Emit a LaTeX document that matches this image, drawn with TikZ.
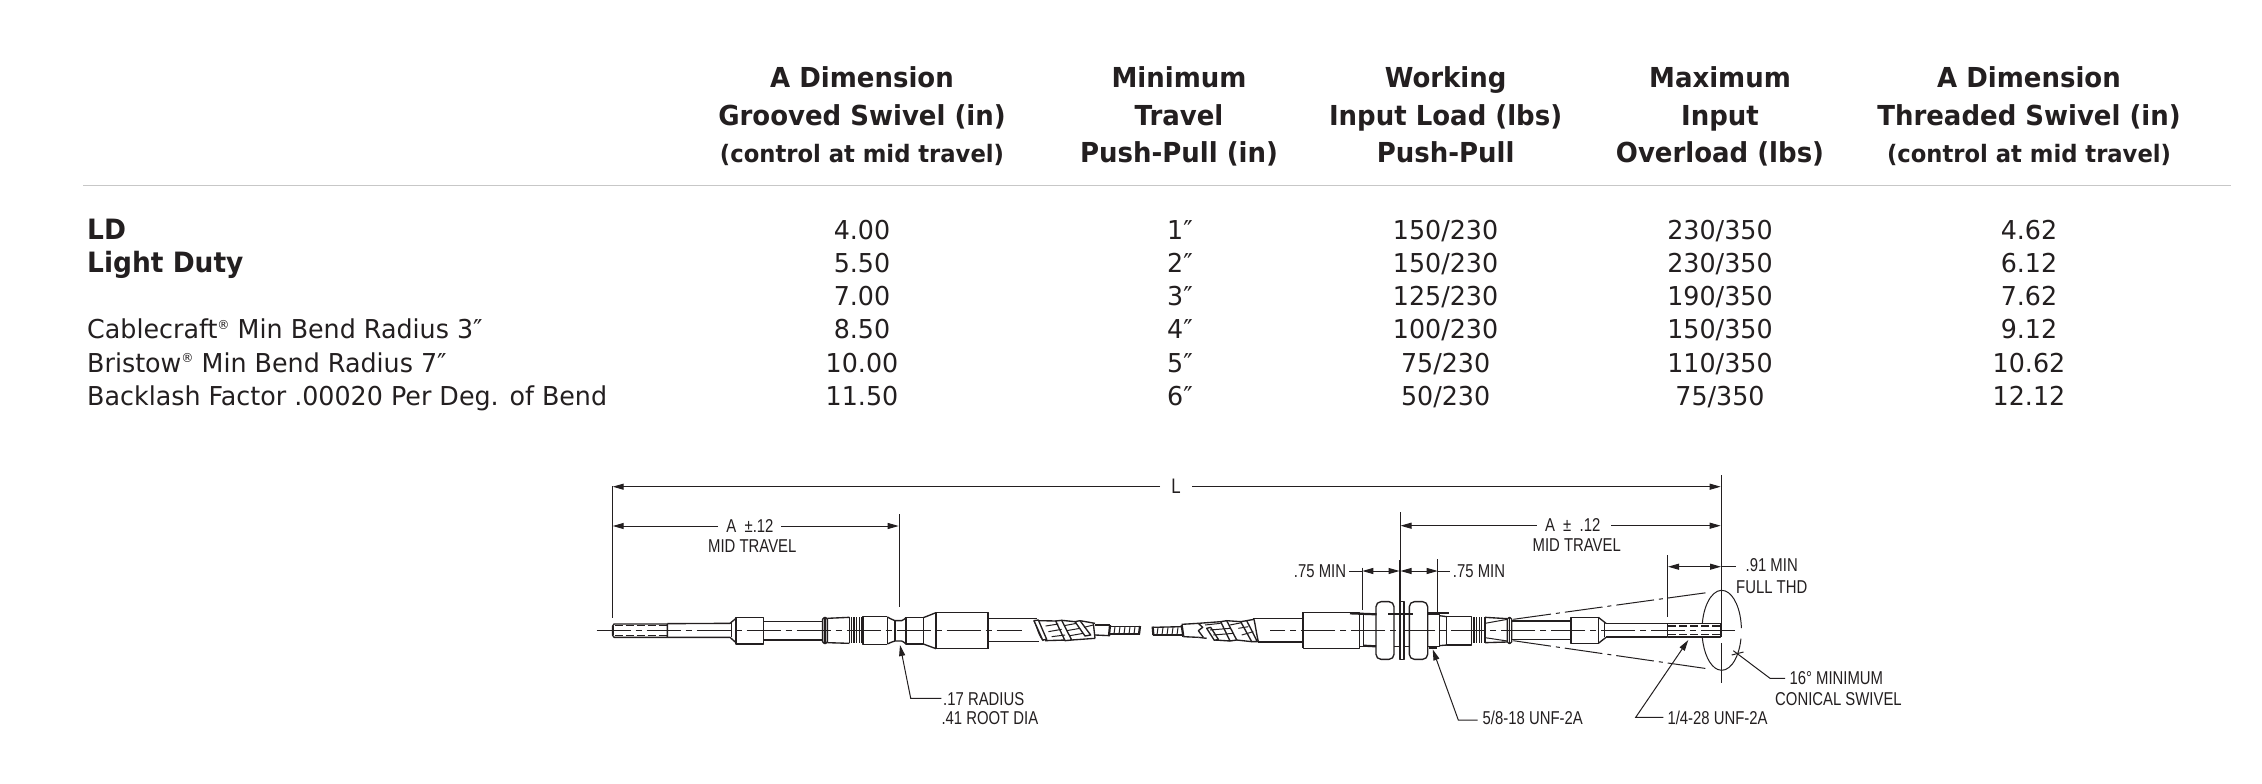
\documentclass[tikz,border=0pt]{standalone}
\usepackage{fontspec}
\usetikzlibrary{arrows.meta}
\newfontfamily\tabfont[FakeStretch=0.975]{DejaVu Sans}
\newfontfamily\headfont[FakeStretch=0.945]{DejaVu Sans Bold}
\newfontfamily\drawfont[FakeStretch=0.8]{Liberation Sans}
\definecolor{ink}{HTML}{231F20}
\tikzset{
 tabcell/.style={inner sep=0pt,anchor=base,text=ink,font=\tabfont\fontsize{26}{26}\selectfont},
 tableft/.style={tabcell,anchor=base west},
 tabbold/.style={tabcell,anchor=base west,font=\headfont\fontsize{28}{28}\selectfont},
 headcell/.style={inner sep=0pt,anchor=base,text=ink,font=\headfont\fontsize{27.5}{27.5}\selectfont},
 subcell/.style={inner sep=0pt,anchor=base,text=ink,font=\headfont\fontsize{24}{24}\selectfont},
 lab/.style={inner sep=0pt,anchor=base,text=ink,font=\drawfont\fontsize{18.6}{18.6}\selectfont},
 labw/.style={lab,anchor=base west},
 part/.style={draw=ink,line width=1.35pt,line join=round},
 heavy/.style={draw=ink,line width=2.2pt},
 thin/.style={draw=ink,line width=1pt},
 dim/.style={draw=ink,line width=1pt},
 dimarrow/.style={dim,-{Triangle[length=11pt,width=6pt]}},
 dimboth/.style={dim,{Triangle[length=11pt,width=6pt]}-{Triangle[length=11pt,width=6pt]}},
 centerline/.style={draw=ink,line width=1pt,dash pattern=on 34pt off 5pt on 6pt off 5pt},
 conic/.style={draw=ink,line width=1pt,dash pattern=on 38pt off 5pt on 4pt off 5pt},
 threaddash/.style={draw=ink,line width=1.2pt,dash pattern=on 8pt off 3pt},
 zoomed/.style={x=0.33333pt,y=-0.33333pt},
}
\newcommand{\tablerow}[7]{%
 \node[tabcell] (a#1) at (862,#2) {#3};
 \node[tabcell] (b#1) at (1180,#2) {#4};
 \node[tabcell] (c#1) at (1445.6,#2) {#5};
 \node[tabcell] (d#1) at (1720,#2) {#6};
 \node[tabcell] (e#1) at (2029,#2) {#7};
}
\newcommand{\regd}{\raisebox{9.5pt}{\fontsize{12.5}{12.5}\selectfont\char"AE}}
\begin{document}
\begin{tikzpicture}[x=1pt,y=-1pt]
\useasboundingbox (0,0) rectangle (2262,784);
\fill[white] (0,0) rectangle (2262,784);
% ---------- table head
\node[headcell] (h1a) at (862,87.7) {A Dimension};
\node[headcell] (h1b) at (862,125) {Grooved Swivel (in)};
\node[subcell] (h1c) at (862,162.5) {(control at mid travel)};
\node[headcell] (h2a) at (1179,87.7) {Minimum};
\node[headcell] (h2b) at (1179,125) {Travel};
\node[headcell] (h2c) at (1179,162.5) {Push-Pull (in)};
\node[headcell] (h3a) at (1445.6,87.7) {Working};
\node[headcell] (h3b) at (1445.6,125) {Input Load (lbs)};
\node[headcell] (h3c) at (1445.6,162.5) {Push-Pull};
\node[headcell] (h4a) at (1720,87.7) {Maximum};
\node[headcell] (h4b) at (1720,125) {Input};
\node[headcell] (h4c) at (1720,162.5) {Overload (lbs)};
\node[headcell] (h5a) at (2029,87.7) {A Dimension};
\node[headcell] (h5b) at (2029,125) {Threaded Swivel (in)};
\node[subcell] (h5c) at (2029,162.5) {(control at mid travel)};
\draw[draw=black!22,line width=1.1pt] (83,185.3) -- (2231,185.3);
% ---------- table body
\node[tabbold] (l1) at (87,239) {LD};
\node[tabbold] (l2) at (87,272) {Light Duty};
\node[tableft] (l4) at (87,338.7) {Cablecraft\regd{} Min Bend Radius 3″};
\node[tableft] (l5) at (87,372) {Bristow\regd{} Min Bend Radius 7″};
\node[tableft] (l6) at (87,405.3) {Backlash Factor .00020 Per Deg. of Bend};
\tablerow{1}{239}{4.00}{1″}{150/230}{230/350}{4.62}
\tablerow{2}{272}{5.50}{2″}{150/230}{230/350}{6.12}
\tablerow{3}{305}{7.00}{3″}{125/230}{190/350}{7.62}
\tablerow{4}{338.7}{8.50}{4″}{100/230}{150/350}{9.12}
\tablerow{5}{372}{10.00}{5″}{75/230}{110/350}{10.62}
\tablerow{6}{405.3}{11.50}{6″}{50/230}{75/350}{12.12}
% ---------- centre lines
\coordinate (clA) at (596.7,630.5);
\coordinate (clB) at (1021.7,630.5);
\coordinate (clC) at (1735,630.5);
\coordinate (clD) at (1270,630.5);
\draw[centerline] (clA) -- (clB);
\draw[centerline] (clC) -- (clD);
% ---------- left assembly, part 1
\begin{scope}[shift={(590,590)},zoomed]
 \draw[part] (232,102) -- (72,102) -- (68,108) -- (68,136) -- (72,142) -- (232,142) -- cycle;
 \draw[heavy] (69,108) -- (69,136);
 \draw[threaddash] (74,107) -- (230,107);
 \draw[threaddash] (74,137) -- (230,137);
 \draw[part] (232,101) -- (420,100) -- (438,85);
 \draw[part] (232,142) -- (420,142) -- (438,158);
 \draw[part] (424,100) -- (424,142);
 \draw[part] (438,82) rectangle (521,162);
 \draw[part] (521,95) -- (700,95);
 \draw[part] (521,150) -- (700,150);
 \draw[part,rounded corners=1.5pt] (698,83) rectangle (712,160);
 \draw[part] (705,85) -- (705,158);
 \draw[part] (712,85) -- (778,82);
 \draw[part] (712,158) -- (778,160);
 \foreach \tx in {778,785,792,800,808,815} \draw[part] (\tx,82) -- (\tx,160);
 \draw[part] (892,80) -- (819,80) -- (819,164) -- (892,164);
\end{scope}
% ---------- left assembly, part 2
\begin{scope}[shift={(880,590)},zoomed]
 \draw[part] (22,81) .. controls (32,83) and (36,92) .. (45,92) -- (65,92) .. controls (72,92) and (72,85) .. (78,83);
 \draw[part] (22,162) .. controls (32,160) and (36,153) .. (45,153) -- (65,153) .. controls (72,153) and (72,160) .. (78,162);
 \draw[part] (22,81) -- (22,162);
 \draw[part] (45,92) -- (45,153);
 \draw[part] (78,83) rectangle (130,162);
 \draw[part] (130,83) -- (168,68);
 \draw[part] (130,162) -- (168,176);
 \draw[part] (168,68) rectangle (325,176);
 \draw[heavy] (325,68) -- (325,176);
 \draw[part] (327,85) -- (470,85);
 \draw[part] (327,155) -- (478,155);
 \draw[part] (462,92) .. controls (470,105) and (475,135) .. (490,152);
 % wrap
 \draw[part] (475,92) -- (530,93);
 \draw[part] (545,91) -- (585,95);
 \draw[part] (600,92) -- (645,100);
 \draw[part] (495,152) -- (560,150);
 \draw[part] (575,150) -- (645,145);
 \draw[part,fill=white] (462,92) -- (475,90) -- (500,148) -- (488,150) -- cycle;
 \draw[part,fill=white] (527,93) -- (545,91) -- (575,150) -- (555,152) -- cycle;
 \draw[part,fill=white] (585,95) -- (600,92) -- (632,135) -- (615,138) -- cycle;
 \draw[thin] (497,108) -- (535,102);
 \draw[thin] (505,125) -- (545,118);
 \draw[thin] (515,140) -- (555,135);
 \draw[thin] (552,107) -- (590,100);
 \draw[thin] (560,122) -- (600,115);
 \draw[thin] (570,137) -- (610,130);
 \draw[thin] (612,112) -- (640,105);
 \draw[part] (640,100) -- (645,145);
 % tube and wire
 \draw[part] (645,105) -- (690,105);
 \draw[part] (645,135) -- (690,137);
 \draw[heavy] (690,105) -- (687,137);
 \draw[part] (690,110) -- (780,110);
 \draw[part] (690,132) -- (780,132);
 \foreach \tx in {705,720,735,750,765} \draw[thin] (\tx,110) -- (\tx-3,132);
 \draw[heavy] (780,108) -- (777,133);
\end{scope}
% ---------- right assembly, part 1
\begin{scope}[shift={(1150,580)},zoomed]
 \draw[part] (8,142) -- (95,140);
 \draw[part] (8,165) -- (95,165);
 \foreach \tx in {24,39,54,69,84} \draw[thin] (\tx,142) -- (\tx-3,165);
 \draw[heavy] (8,140) -- (10,165);
 \draw[part] (95,133) -- (145,130);
 \draw[part] (100,170) -- (145,172);
 \draw[heavy] (95,135) -- (100,170);
 % wrap
 \draw[part] (145,130) -- (212,125);
 \draw[part] (230,122) -- (272,125);
 \draw[part] (290,122) -- (312,118);
 \draw[part] (145,172) -- (170,175);
 \draw[part] (195,180) -- (240,183);
 \draw[part] (260,180) -- (305,185);
 \draw[part] (145,130) -- (158,142) -- (145,152) -- (160,172);
 \draw[part,fill=white] (170,145) -- (182,142) -- (205,178) -- (193,181) -- cycle;
 \draw[part,fill=white] (212,125) -- (230,122) -- (260,180) -- (240,183) -- cycle;
 \draw[part,fill=white] (272,125) -- (290,122) -- (322,185) -- (305,185) -- cycle;
 \draw[thin] (165,135) -- (212,130);
 \draw[thin] (180,150) -- (240,145);
 \draw[thin] (190,165) -- (250,160);
 \draw[thin] (240,135) -- (275,128);
 \draw[thin] (265,145) -- (295,140);
 \draw[thin] (275,165) -- (310,155);
 \draw[part] (312,118) .. controls (316,135) and (320,165) .. (325,185);
 % sleeve and body
 \draw[part] (310,116) -- (460,116);
 \draw[part] (325,186) -- (460,186);
 \draw[part] (460,97) rectangle (628,205);
 \draw[heavy] (460,97) -- (460,205);
 \draw[part] (628,100) -- (678,100);
 \draw[part] (628,200) -- (678,200);
 \draw[part] (640,100) -- (640,200);
 \draw[part,rounded corners=5pt] (678,65) rectangle (732,238);
 \draw[part] (732,102) -- (778,102);
 \draw[part] (732,200) -- (778,200);
 \draw[part,fill=white] (750,65) rectangle (762,238);
 \draw[part,rounded corners=5pt] (778,65) rectangle (833,238);
 \draw[part] (833,102) -- (868,102) -- (868,200) -- (833,200);
 \draw[heavy] (600,100) -- (680,103);
 \draw[heavy] (715,102) -- (790,102);
 \draw[heavy] (835,100) -- (898,100);
 \draw[heavy] (640,197) -- (678,199);
 \draw[heavy] (836,203) -- (860,203);
 \draw[part] (868,107) -- (890,110);
 \draw[part] (868,197) -- (890,195);
 \draw[part] (890,110) rectangle (965,195);
\end{scope}
% ---------- right assembly, part 2
\begin{scope}[shift={(1470,570)},zoomed]
 \foreach \tx in {5,12,20,28,35,45} \draw[part] (\tx,142) -- (\tx,218);
 \draw[part] (45,142) -- (112,146);
 \draw[part] (45,218) -- (112,216);
 \draw[thin] (45,160) -- (112,148);
 \draw[thin] (45,203) -- (112,213);
 \draw[part,rounded corners=1.5pt] (112,143) rectangle (125,220);
 \draw[part] (118,145) -- (118,218);
 \draw[part] (125,153) -- (303,153);
 \draw[part] (125,208) -- (303,208);
 \draw[part] (303,142) rectangle (385,220);
 \draw[part] (385,142) -- (408,160);
 \draw[part] (385,220) -- (408,202);
 \draw[part] (404,160) -- (404,202);
 \draw[part] (408,160) -- (590,160);
 \draw[part] (408,201) -- (590,201);
 \draw[part] (560,160) -- (750,160);
 \draw[part] (592,160) rectangle (752,201);
 \draw[heavy] (752,160) -- (752,202);
 \draw[threaddash] (595,168) -- (750,168);
 \draw[threaddash] (595,194) -- (750,194);
\end{scope}
% ---------- conical swivel
\coordinate (cnUa) at (1513.3,619.3);
\coordinate (cnUb) at (1709.3,592.3);
\coordinate (cnLa) at (1513.3,640.7);
\coordinate (cnLb) at (1709.3,669);
\draw[conic] (cnUa) -- (cnUb);
\draw[conic] (cnLa) -- (cnLb);
\coordinate (ell) at (1721.7,630.3);
\draw[dim] (ell) ++(12:19.7 and 40) arc[start angle=12,end angle=170,x radius=19.7,y radius=40];
\draw[dim] (ell) ++(190:19.7 and 40) arc[start angle=190,end angle=357,x radius=19.7,y radius=40];
% ---------- L dimension
\coordinate (extLa) at (612.7,486);
\coordinate (extLb) at (612.7,617.7);
\coordinate (extRa) at (1721.7,475);
\coordinate (extRb) at (1721.7,624);
\coordinate (extRc) at (1721.7,643);
\coordinate (extRd) at (1721.7,682.7);
\draw[dim] (extLa) -- (extLb);
\draw[dim] (extRa) -- (extRb);
\draw[dim] (extRc) -- (extRd);
\node[lab,font=\drawfont\fontsize{21}{21}\selectfont] (Lbl) at (1176,493.5) {L};
\coordinate (dLa) at (612.7,486.7);
\coordinate (dLb) at (1160,486.7);
\coordinate (dLc) at (1192,486.7);
\coordinate (dLd) at (1720.7,486.7);
\draw[dimarrow] (dLb) -- (dLa);
\draw[dimarrow] (dLc) -- (dLd);
% ---------- left A dimension
\coordinate (extAa) at (899.2,514);
\coordinate (extAb) at (899.2,607);
\coordinate (dAa) at (612.7,526);
\coordinate (dAb) at (718,526);
\coordinate (dAc) at (781,526);
\coordinate (dAd) at (898.7,526);
\draw[dim] (extAa) -- (extAb);
\draw[dimarrow] (dAb) -- (dAa);
\draw[dimarrow] (dAc) -- (dAd);
\node[lab] (lblA) at (750,532.7) {A\ \ ±.12};
\node[lab] (lblMa) at (752.3,552.7) {MID TRAVEL};
% ---------- right A dimension
\coordinate (dBa) at (1400.5,525.7);
\coordinate (dBb) at (1536.7,525.7);
\coordinate (dBc) at (1611,525.7);
\coordinate (dBd) at (1720.7,525.7);
\draw[dimarrow] (dBb) -- (dBa);
\draw[dimarrow] (dBc) -- (dBd);
\node[lab] (lblB) at (1572.7,531.7) {A\ \ ±\ \ .12};
\node[lab] (lblMb) at (1576.7,551.7) {MID TRAVEL};
% ---------- .75 MIN
\coordinate (e75a) at (1362.3,567.7);
\coordinate (e75b) at (1362.3,610);
\coordinate (e75c) at (1400,512.3);
\coordinate (e75m) at (1400,560);
\coordinate (e75d) at (1400,625);
\coordinate (e75e) at (1437.7,559);
\coordinate (e75f) at (1437.7,611.7);
\draw[dim] (e75a) -- (e75b);
\draw[dim] (e75c) -- (e75m);
\draw[dim,line width=1.4pt] (e75m) -- (e75d);
\draw[dim] (e75e) -- (e75f);
\coordinate (d75a) at (1362.3,571);
\coordinate (d75b) at (1399.5,571);
\coordinate (d75c) at (1400.5,571);
\coordinate (d75d) at (1437.7,571);
\draw[dimboth] (d75a) -- (d75b);
\draw[dimboth] (d75c) -- (d75d);
\node[lab] (lbl75a) at (1320,577.3) {.75 MIN};
\node[lab] (lbl75b) at (1479,577.3) {.75 MIN};
\coordinate (d75l) at (1349,571);
\coordinate (d75r) at (1450,571);
\draw[dim] (d75l) -- (d75a);
\draw[dim] (d75d) -- (d75r);
% ---------- .91 MIN FULL THD
\coordinate (e91a) at (1667.7,555);
\coordinate (e91b) at (1667.7,617.3);
\draw[dim] (e91a) -- (e91b);
\coordinate (d91a) at (1668,566.7);
\coordinate (d91b) at (1721,566.7);
\coordinate (d91c) at (1736,566.7);
\draw[dimboth] (d91a) -- (d91b);
\draw[dim] (d91b) -- (d91c);
\node[lab] (lbl91) at (1771.7,571.7) {.91 MIN};
\node[lab] (lblFT) at (1771.7,593.3) {FULL THD};
% ---------- leaders
\coordinate (r17tip) at (900,645);
\coordinate (r17k) at (910.7,698.3);
\coordinate (r17e) at (941.3,698.3);
\draw[dim,{Triangle[length=11pt,width=6pt]}-] (r17tip) -- (r17k) -- (r17e);
\node[labw] (lblR) at (943,705) {.17 RADIUS};
\node[labw] (lblD) at (941.3,724) {.41 ROOT DIA};
\coordinate (u58tip) at (1432.7,649.3);
\coordinate (u58k) at (1458.3,720);
\coordinate (u58e) at (1477.7,720);
\draw[dim,{Triangle[length=11pt,width=6pt]}-] (u58tip) -- (u58k) -- (u58e);
\node[labw] (lbl58) at (1482.5,724) {5/8-18 UNF-2A};
\coordinate (u14tip) at (1688.3,640);
\coordinate (u14k) at (1635.7,717.3);
\coordinate (u14e) at (1663.3,717.3);
\draw[dim,{Triangle[length=11pt,width=6pt]}-] (u14tip) -- (u14k) -- (u14e);
\node[labw] (lbl14) at (1667.3,724) {1/4-28 UNF-2A};
\coordinate (swT) at (1733.3,650.7);
\coordinate (swK) at (1770,678.3);
\coordinate (swE) at (1785,678.3);
\coordinate (swX) at (1731.7,655);
\coordinate (swY) at (1743.5,652);
\draw[dim] (swT) -- (swK) -- (swE);
\draw[dim] (swX) -- (swY);
\node[labw] (lbl16) at (1789.3,684) {16° MINIMUM};
\node[labw] (lblCS) at (1775,705) {CONICAL SWIVEL};
\end{tikzpicture}
\end{document}
